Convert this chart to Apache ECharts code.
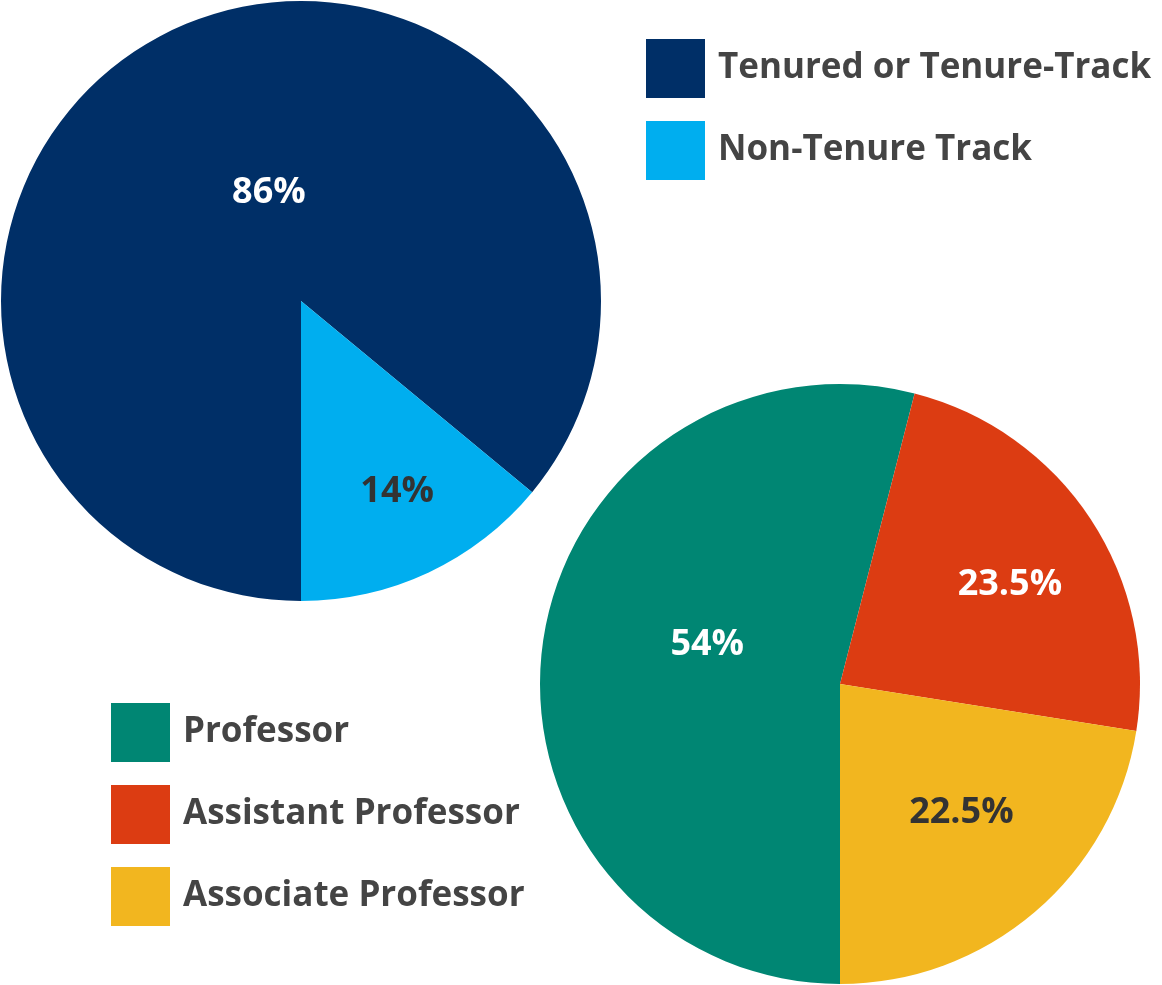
<!DOCTYPE html>
<html>
<head>
<meta charset="utf-8">
<style>
  html, body { margin: 0; padding: 0; background: #fff; }
  #chart { width: 1162px; height: 985px; }
</style>
<script src="https://cdn.jsdelivr.net/npm/echarts@6/dist/echarts.min.js"></script>
</head>
<body>
<div id="chart"></div>
<script>
// data
var tenureNames = ['Tenured or Tenure-Track', 'Non-Tenure Track'];
var tenureValues = [86, 14];
var rankNames = ['Professor', 'Assistant Professor', 'Associate Professor'];
var rankValues = [54, 23.5, 22.5];

// styles
var tenureColors = ['#002f67', '#00aeef'];
var rankColors = ['#008673', '#dc3c12', '#f2b61f'];
var tenureLabelColors = ['#fff', '#333'];
var rankLabelColors = ['#fff', '#fff', '#333'];
// nudge of each label from the default inside spot
var tenureShift = [[33, 30], [31, 52]];
var rankShift = [[19, -20], [42, -15], [22, 12]];

var font = '"Open Sans", sans-serif';

function makeData(names, values, colors, labelColors) {
  return names.map(function (n, i) {
    return {
      name: n,
      value: values[i],
      itemStyle: { color: colors[i] },
      label: { color: labelColors[i] }
    };
  });
}

var legendStyle = {
  orient: 'vertical',
  icon: 'rect',
  padding: 0,
  itemWidth: 59,
  itemHeight: 59,
  itemGap: 23,
  selectedMode: false,
  itemStyle: { borderWidth: 0 },
  textStyle: {
    fontFamily: font,
    fontWeight: 'bold',
    fontSize: 35,
    color: '#444',
    padding: [14, 0, 0, 8]
  }
};

function pieSeries(center, data, shift) {
  return {
    type: 'pie',
    center: center,
    radius: 300,
    startAngle: 270,
    clockwise: true,
    silent: true,
    emphasis: { disabled: true },
    label: {
      show: true,
      position: 'inside',
      formatter: '{c}%',
      fontFamily: font,
      fontWeight: 'bold',
      fontSize: 36
    },
    labelLine: { show: false },
    labelLayout: function (p) {
      return { dx: shift[p.dataIndex][0], dy: shift[p.dataIndex][1] };
    },
    data: data
  };
}

var chart = echarts.init(document.getElementById('chart'));
chart.setOption({
  animation: false,
  legend: [
    Object.assign({ left: 646, top: 39, data: tenureNames }, legendStyle),
    Object.assign({ left: 111, top: 703, data: rankNames }, legendStyle)
  ],
  series: [
    pieSeries([301, 301], makeData(tenureNames, tenureValues, tenureColors, tenureLabelColors), tenureShift),
    pieSeries([840, 684], makeData(rankNames, rankValues, rankColors, rankLabelColors), rankShift)
  ]
});
</script>
</body>
</html>
